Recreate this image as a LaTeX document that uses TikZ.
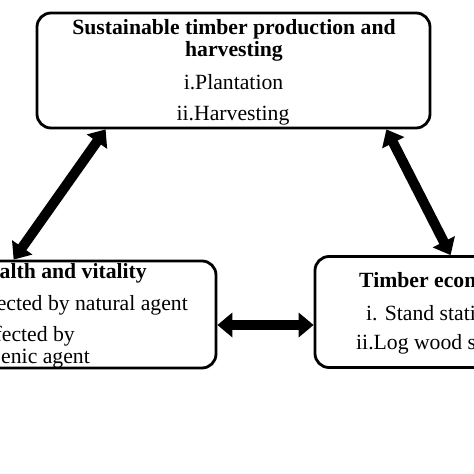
\documentclass[tikz,border=0pt]{standalone}
\usepackage{fontspec}
\setmainfont{Liberation Serif}
\usetikzlibrary{arrows.meta}
\tikzstyle{box} = [rectangle, rounded corners=14pt, draw=black, line width=2.8pt, inner sep=0pt]
\tikzstyle{title} = [font=\fontsize{21.7}{26}\selectfont\bfseries, inner sep=0pt]
\tikzstyle{txt} = [font=\fontsize{21.7}{26}\selectfont, inner sep=0pt]
\tikzstyle{arrow} = [line width=10pt,<->,>={Triangle[length=15pt,width=24pt]}]
\begin{document}
\begin{tikzpicture}[x=1pt,y=-1pt]
	\useasboundingbox (0,0) rectangle (474,474);
	\clip (0,0) rectangle (474,474);
	\node (prod) [box, minimum width=393pt, minimum height=115pt] at (233.5,70.5) {};
	\node (health) [box, minimum width=256pt, minimum height=107pt] at (88,314.5) {};
	\node (econ) [box, minimum width=205pt, minimum height=111pt] at (417.5,312) {};
	% top box
	\node (prodh1) [title, anchor=base] at (234,34) {Sustainable timber production and};
	\node (prodh2) [title, anchor=base] at (234,56) {harvesting};
	\node (prod1) [txt, anchor=base] at (233.5,89) {i.Plantation};
	\node (prod2) [txt, anchor=base] at (233,120) {ii.Harvesting};
	% left box
	\node (healthh) [title, anchor=base east] at (147,278) {alth and vitality};
	\node (health1) [txt, anchor=base east] at (188,310) {ected by natural agent};
	\node (health2) [txt, anchor=base east] at (75,341) {fected by};
	\node (health3) [txt, anchor=base east] at (90,363) {enic agent};
	% right box
	\node (econh) [title, anchor=base west] at (359,287) {Timber econ};
	\node (econ1) [txt, anchor=base west] at (366,320) {i. Stand stati};
	\node (econ2) [txt, anchor=base west] at (356,349) {ii.Log wood s};
	\coordinate (mid) at ([yshift=-10.5pt]health.east);
	\draw [arrow] ([xshift=70pt]prod.south west) -- ([xshift=55pt]health.north west);
	\draw [arrow] ([xshift=-45pt]prod.south east) -- ([xshift=137pt]econ.north west);
	\draw [arrow] (mid) -- (mid -| econ.west);
\end{tikzpicture}
\end{document}
